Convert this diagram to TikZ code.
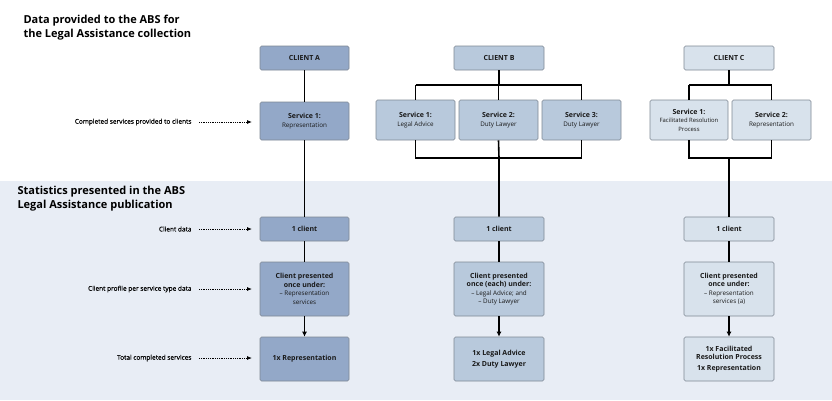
\documentclass[tikz,border=0pt]{standalone}
\usepackage{fontspec}
\setmainfont{Open Sans}
\usetikzlibrary{arrows.meta}
\definecolor{bandc}{HTML}{E8EDF5}
\definecolor{ca}{HTML}{93A8C8}
\definecolor{cb}{HTML}{B8C9DC}
\definecolor{cc}{HTML}{D8E2EC}
\definecolor{bord}{HTML}{7F8894}
\tikzset{
 box/.style={draw=bord,line width=0.6pt,rounded corners=1.5pt,minimum height=#1,inner sep=1pt,align=center,font=\fontsize{7}{8.5}\selectfont,text=black!90},
 box/.default=24pt,
 lab/.style={anchor=east,font=\fontsize{6.5}{7}\selectfont\addfontfeatures{FakeBold=0.3}},
 dot/.style={densely dotted,line width=0.8pt,-{Latex[length=5pt,width=4pt]}},
 conn/.style={line width=1.6pt},
 head/.style={anchor=north west,align=left,font=\fontsize{11}{13.5}\selectfont\bfseries}
}
\begin{document}
\begin{tikzpicture}[x=1pt,y=-1pt]
\useasboundingbox (0,0) rectangle (832,400);
\fill[white] (0,0) rectangle (832,181);
\fill[bandc] (0,181) rectangle (832,400);
\node[head] (h1) at (20,12) {Data provided to the ABS for\\the Legal Assistance collection};
\node[head] (h2) at (14,183) {Statistics presented in the ABS\\Legal Assistance publication};
% column A
\node[box,fill=ca,minimum width=89pt] (ca) at (304.5,58) {\textbf{CLIENT A}};
\node[box,fill=ca,minimum width=89pt,minimum height=38pt] (sa) at (304.5,121) {\textbf{Service 1:}\\\fontsize{6.3}{8}\selectfont Representation};
\node[box,fill=ca,minimum width=89pt] (oa) at (304.5,229) {\textbf{1 client}};
\node[box,fill=ca,minimum width=89pt,minimum height=54pt] (pa) at (304.5,289) {\textbf{Client presented}\\\textbf{once under:}\\{\fontsize{6.3}{8}\selectfont – Representation}\\{\fontsize{6.3}{8}\selectfont services}};
\node[box,fill=ca,minimum width=89pt,minimum height=44pt] (ta) at (304.5,359) {\textbf{1x Representation}};
\draw[conn] (ca) -- (sa);
\draw[conn] (sa) -- (oa);
\draw[conn] (oa) -- (pa);
\draw[conn,-{Latex[length=5pt,width=5pt]}] (pa) -- (ta);
% column B
\node[box,fill=cb,minimum width=90pt] (cbn) at (499,58) {\textbf{CLIENT B}};
\node[box,fill=cb,minimum width=79pt,minimum height=40pt] (sb1) at (415.5,120) {\textbf{Service 1:}\\\fontsize{6.3}{8}\selectfont Legal Advice};
\node[box,fill=cb,minimum width=79pt,minimum height=40pt] (sb2) at (498.5,120) {\textbf{Service 2:}\\\fontsize{6.3}{8}\selectfont Duty Lawyer};
\node[box,fill=cb,minimum width=79pt,minimum height=40pt] (sb3) at (581.5,120) {\textbf{Service 3:}\\\fontsize{6.3}{8}\selectfont Duty Lawyer};
\node[box,fill=cb,minimum width=90pt] (ob) at (499,229) {\textbf{1 client}};
\node[box,fill=cb,minimum width=90pt,minimum height=54pt] (pb) at (499,289) {\textbf{Client presented}\\\textbf{once (each) under:}\\{\fontsize{6.3}{8}\selectfont – Legal Advice; and}\\{\fontsize{6.3}{8}\selectfont – Duty Lawyer}};
\node[box,fill=cb,minimum width=90pt,minimum height=44pt] (tb) at (499,359) {\textbf{1x Legal Advice}\\[2pt]\textbf{2x Duty Lawyer}};
\coordinate (bt) at (499,85);
\coordinate (bb) at (499,158);
\draw[conn] (cbn) -- (bt);
\draw[conn] (sb1.north |- bt) -- (sb3.north |- bt);
\draw[conn] (sb1.north |- bt) -- (sb1.north);
\draw[conn] (sb2.north |- bt) -- (sb2.north);
\draw[conn] (sb3.north |- bt) -- (sb3.north);
\draw[conn] (sb1.south) -- (sb1.south |- bb) -- (sb3.south |- bb) -- (sb3.south);
\draw[conn] (sb2.south) -- (bb) -- (ob);
\draw[conn] (ob) -- (pb);
\draw[conn,-{Latex[length=5pt,width=5pt]}] (pb) -- (tb);
% column C
\node[box,fill=cc,minimum width=90pt] (ccn) at (729,58) {\textbf{CLIENT C}};
\node[box,fill=cc,minimum width=78pt,minimum height=40pt] (sc1) at (689,120) {\textbf{Service 1:}\\{\fontsize{5.9}{8}\selectfont Facilitated Resolution}\\{\fontsize{5.9}{8}\selectfont Process}};
\node[box,fill=cc,minimum width=79pt,minimum height=40pt] (sc2) at (771.5,120) {\textbf{Service 2:}\\\fontsize{6.3}{8}\selectfont Representation};
\node[box,fill=cc,minimum width=90pt] (oc) at (729,229) {\textbf{1 client}};
\node[box,fill=cc,minimum width=90pt,minimum height=54pt] (pc) at (729,289) {\textbf{Client presented}\\\textbf{once under:}\\{\fontsize{6.3}{8}\selectfont – Representation}\\{\fontsize{6.3}{8}\selectfont services (a)}};
\node[box,fill=cc,minimum width=90pt,minimum height=44pt] (tc) at (729,359) {\textbf{1x Facilitated}\\\textbf{Resolution Process}\\[2pt]\textbf{1x Representation}};
\coordinate (ct) at (729,85);
\coordinate (cbm) at (729,158);
\draw[conn] (ccn) -- (ct);
\draw[conn] (sc1.north |- ct) -- (sc2.north |- ct);
\draw[conn] (sc1.north |- ct) -- (sc1.north);
\draw[conn] (sc2.north |- ct) -- (sc2.north);
\draw[conn] (sc1.south) -- (sc1.south |- cbm) -- (sc2.south |- cbm) -- (sc2.south);
\draw[conn] (cbm) -- (oc);
\draw[conn] (oc) -- (pc);
\draw[conn,-{Latex[length=5pt,width=5pt]}] (pc) -- (tc);
% labels
\node[lab] (l1) at (195,122) {Completed services provided to clients};
\node[lab] (l2) at (195,229) {Client data};
\node[lab] (l3) at (195,289) {Client profile per service type data};
\node[lab] (l4) at (195,358) {Total completed services};
\coordinate (e1) at (252,122);
\coordinate (e2) at (252,229);
\coordinate (e3) at (252,289);
\coordinate (e4) at (252,358);
\draw[dot] (l1.east)++(4,0) -- (e1);
\draw[dot] (l2.east)++(4,0) -- (e2);
\draw[dot] (l3.east)++(4,0) -- (e3);
\draw[dot] (l4.east)++(4,0) -- (e4);
\end{tikzpicture}
\end{document}
